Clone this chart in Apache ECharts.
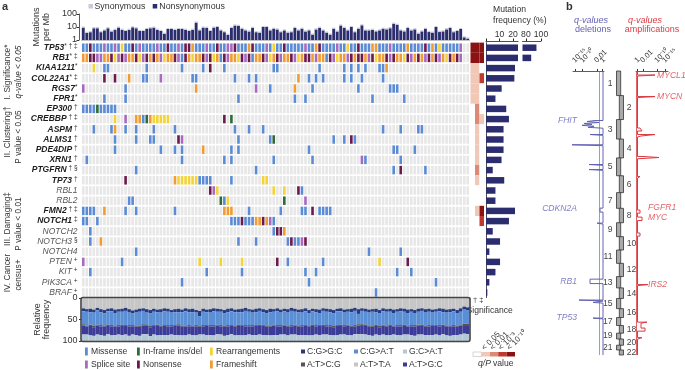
<!DOCTYPE html>
<html>
<head>
<meta charset="utf-8">
<title>SCLC mutations</title>
<script src="https://cdn.jsdelivr.net/npm/echarts@6.0.0/dist/echarts.min.js"></script>
<style>
  html, body { margin: 0; padding: 0; background: #fff; }
  #chart { width: 685px; height: 370px; }
</style>
</head>
<body>
<div id="chart"></div>
<script>
const FONT = "'Liberation Sans', Arial, sans-serif";
const nSamples = 110;
const sampleIds = [];
for (let i = 1; i <= nSamples; i++) sampleIds.push('S' + i);

// mutations per Mb, one value per sample
const nonsynRate = [9,3.5,4,8,8,4,5.5,8,4.5,6, 9,6,5,6,9.5,8,5,5,7,8, 9,6,5,3,7,7,6,7,7,6,
  5,6,22,5.5,9,8.5,5,9,10,5.5, 4,2.5,8.5,13,12,7.5,5.5,4.5,8.5,4, 3.7,10,10,5.5,7.5,6.5,4,5.5,3.7,4,
  8.5,5.5,7.5,4.5,5.5,2.6,6.5,8.5,5.5,3.7, 2.6,7.5,4.5,13,8.5,5.5,10,4,7.5,13.5, 5.5,5.5,6,4.6,5.5,7.5,6.6,8,18,15,
  5.5,4.6,8.4,5.5,6.6,3.1,4.6,7.4,4.1,3.7, 10,4.1,4.6,6.6,8.4,4,5,7,1.6,1.3];
const synRate = [2,0.8,1,2,2,1,1.2,2,1,1.5, 2,1.5,1,1.5,2,2,1,1,1.5,2, 2,1.5,1,0.7,1.5,1.5,1.5,1.5,1.5,1.5,
  1,1.5,5,1.2,2,2,1,2,2,1.2, 1,0.6,2,3,3,1.5,1.2,1,2,1, 0.8,2,2,1.2,1.5,1.5,1,1.2,0.8,1,
  2,1.2,1.5,1,1.2,0.6,1.5,2,1.2,0.8, 0.6,1.5,1,3,2,1.2,2,1,1.5,3, 1.2,1.2,1.5,1,1.2,1.5,1.5,2,4,3,
  1.2,1,2,1.2,1.5,0.7,1,1.5,1,0.8, 2,1,1,1.5,2,1,1,1.5,0.4,0.3];

// genes (rows) and their mutations: "startColumn:letters", one letter per sample
// M missense, S splice site, I in-frame, N nonsense, R rearrangement, F frameshift
const genes = ['TP53','RB1','KIAA1211','COL22A1','RGS7','FPR1','EP300','CREBBP','ASPM','ALMS1',
  'PDE4DIP','XRN1','PTGFRN','TP73','RBL1','RBL2','FMN2','NOTCH1','NOTCH2','NOTCH3','NOTCH4',
  'PTEN','KIT','PIK3CA','BRAF'];
const geneMarks = ['* † ‡','* ‡','*','* ‡','*','*',' †',' † ‡',' †',' †',' †',' †',' † §',' †','','',
  ' † ‡',' ‡','',' §','',' +',' +',' +',' +'];
const geneBold = [1,1,1,1,1,1,1,1,1,1,1,1,1,1,0,0,1,1,0,0,0,0,0,0,0];
const geneHits = [
  '0:' + 'MMNMMMSMMS' + 'MRMMNMSMMM' + 'MSMMNMMSMN' + 'NFMMMSMMNM' + 'MSSNMMMFNM' + 'MMSMRMMNMM' +
    'MMMSMMFNMM' + 'MMSMMRMMNM' + 'MMFFMMMSMM' + 'MMFMMMMNMF' + 'MRMMMMMS',
  '0:' + 'FFNNSSFFNR' + 'SNSFFNRSNF' + 'NFSRFFNSMN' + 'FRFFNSNRFM' + 'NSFFRNSNMF' + 'FNSRFNSFFN' +
    'SRFNNFSFFM' + 'NSRFFSNFNN' + 'FSNRFFNSNF' + 'FRNSFNFSNF' + 'NSFRNFNS',
  '3:R 6:MM 18:M 28:M 34:M 36:N 40:M 54:MM 67:M 74:M 76:M 78:M 80:M 84:MM 86:F',
  '6:N 9:N 13:F 17:MM 22:S 31:MM 43:M 47:M 49:M 61:F 64:M 66:M 68:M 74:M 76:M 79:M 85:M',
  '0:S 12:M 32:F 49:S 53:M 60:F 65:M 78:M 87:MMM',
  '6:M 12:M 44:M 60:M 63:M 82:M 91:M',
  '0:MMMMIMMMMM',
  '9:R 12:S 15:FFMIF 20:RRRRR 40:N 42:I',
  '3:M 8:MF 12:M 15:M 20:M 26:M 43:M 47:M 51:M 85:M 90:M 95:MM',
  '9:M 15:M 19:MM 27:NS 44:M 53:MI 71:M 74:M 76:NM',
  '9:M 22:M 26:M 28:M 34:F 42:M 44:M 64:M 88:MM 94:M',
  '1:M 28:M 40:M 42:M 54:M 65:M 79:SM 90:M',
  '15:M 49:M 88:M 90:N 97:M',
  '12:N 26:FRRRRRRMMMM 42:M 51:RR',
  '36:NSR 54:R 57:R 61:NM',
  '13:MM 39:IMR 57:I 63:S',
  '0:MMMM 6:F 12:M 15:M 26:M 40:FFF 47:M 56:M 62:MM 65:N 67:MMMM',
  '0:MM 4:M 42:MMMNMMMFFNFSM',
  '2:M 54:MNNF',
  '2:M 5:F 44:M 49:M 58:MNMMSN',
  '15:M 81:M 90:M',
  '0:S 11:M 33:R 39:R 45:R 55:N 58:M 68:M 84:R 92:N',
  '2:M 35:M 45:M 63:M 66:M 89:M 93:M',
  '28:M 64:M 100:M',
  '83:M'
];

// significance per gene: 0 none, 1 <0.05, 2 <0.01, 3 <1e-3, 4 <1e-10
const sigColumns = ['*', '†', '‡'];
const sigStar =    [4,4,1,1,1,1, 0,0,0,0,0,0,0,0, 0,0,0,0,0,0,0, 0,0,0,0];
const sigDagger =  [4,4,1,1,1,1, 2,2,1,1,1,1,2,1, 0,0,1,0,0,0,0, 0,0,0,0];
const sigDDagger = [4,4,0,3,0,0, 0,1,0,0,0,0,0,0, 0,0,4,3,0,0,0, 0,0,0,0];

// mutation frequency (%)
const mutFreq = [94,87,21.5,21,11.6,7,15,17,13,13,13,11.5,5,13.5,7,7,21.5,17,5,10.4,2.5,10.4,7,2.5,1];

// relative frequency of substitution types per sample (%), top to bottom
const atTA = [24,26,25,27,23,26,28,25,24,27, 26,25,23,26,29,27,25,24,26,28, 25,27,26,24,25,28,26,25,27,24,
  26,25,28,30,25,27,26,24,25,26, 28,25,24,27,26,25,23,26,27,25, 24,26,28,25,26,24,27,25,26,23,
  25,27,26,24,28,25,26,27,24,25, 26,28,25,24,27,26,25,23,26,24, 25,27,26,25,28,24,26,25,27,26,
  24,25,27,26,28,25,24,26,25,27, 26,24,25,27,26,25,28,24,20,22];
const cgGC = [7,6,8,7,6,7,8,6,7,8, 6,7,7,8,6,7,7,6,8,7, 7,6,8,7,7,6,7,8,6,7, 7,8,6,12,7,6,8,7,7,6,
  7,8,7,6,7,8,7,6,7,8, 6,7,7,8,6,7,7,6,8,7, 7,6,8,7,7,6,7,8,6,7, 7,8,6,7,7,6,8,7,11,6,
  7,7,6,8,7,7,6,7,8,6, 7,7,8,6,7,7,6,8,7,7, 6,7,8,7,7,6,7,8,7,6];
const cgAT = [30,32,29,31,33,30,28,31,32,29, 31,30,33,29,28,30,32,31,29,30, 31,29,30,32,31,29,30,28,31,33,
  30,31,29,22,31,30,29,32,30,31, 29,30,32,31,29,30,33,31,29,30, 32,30,29,31,30,32,29,31,30,33,
  30,31,29,32,29,31,30,28,32,31, 30,29,32,31,29,30,31,33,24,31, 30,31,32,29,30,31,32,30,29,31,
  32,30,29,31,28,30,32,30,31,29, 31,32,29,30,31,32,29,30,33,32];
const atCG = [3,2,3,3,2,3,2,3,3,2, 3,3,2,3,3,2,3,3,2,3, 2,3,3,2,3,3,2,3,3,2, 3,2,3,3,3,2,3,3,2,3,
  3,3,2,3,3,2,3,3,3,2, 3,2,3,3,2,3,3,2,3,3, 2,3,3,2,3,3,3,2,3,3, 3,3,2,3,3,2,3,3,3,2,
  3,2,3,3,3,2,3,3,2,3, 3,3,2,3,3,2,3,3,3,2, 2,3,3,3,2,3,3,2,3,3];
const atGC = [21,19,22,20,21,20,22,19,21,20, 19,21,20,22,19,20,21,20,19,21, 20,22,19,21,20,19,21,22,20,21,
  19,20,21,18,19,21,20,21,20,19, 21,20,19,20,21,22,20,19,20,21, 20,21,19,20,22,20,19,21,20,19,
  21,19,20,21,20,22,19,21,20,19, 20,19,21,20,19,22,20,18,20,21, 20,19,21,20,19,21,20,21,19,20,
  21,20,19,20,22,21,20,19,20,21, 20,21,19,20,22,20,19,21,20,21];
const gcAT = [22,21,23,22,24,21,22,23,21,22, 23,22,21,24,22,23,21,22,23,21, 22,24,21,22,23,21,22,23,24,21,
  22,23,21,22,24,22,21,23,22,22, 23,21,22,24,21,23,22,21,22,23, 21,22,24,22,23,21,22,23,21,22,
  24,21,22,23,22,21,24,22,23,22, 21,22,23,21,24,22,23,21,22,23, 22,21,23,22,24,21,22,23,22,21,
  23,22,21,24,22,23,21,22,23,22, 21,24,22,23,21,22,23,22,24,21];

// panel b: chromosome sizes (Mb) and q-value profiles on the cumulative genome (Mb)
const chromSizes = [249,243,198,191,181,171,159,146,141,136,135,134,115,107,103,90,81,78,59,63,48,51];
const delPos = [0, 502,502,512,512,522,522,532,532,541,541,551,551,560,560,571,571,580,580,
  644,644,652,652, 705,705,720,720, 748,748,757,757, 948,948,956,956,999,999,1007,1007,
  1390,1390,1430,1430, 1542,1542,1552,1552, 2110,2110,2155,2155,
  2322,2322,2331,2331,2346,2346,2353,2353, 2505,2505,2513,2513, 2880];
const delT = [1, 1,9,9,17,17,5,5,20,20,12,12,22,22,10,10,16,16,1,
  1,14,14,1, 1,3,3,1, 1,32,32,1, 1,15,15,1,1,15,15,1,
  1,4,4,1, 1,7,7,1, 1,14,14,1,
  1,25,25,1,1,11,11,1, 1,11,11,1, 1];
const ampPos = [0, 41,41,51,51, 259,259,269,269, 578,578,598,598,608,608, 644,644,659,659,669,669,
  867,867,877,877,890,890, 1070,1070,1085,1085, 1410,1410,1440,1440, 1481,1481,1516,1516,
  1643,1643,1673,1673, 2165,2165,2175,2175, 2546,2546,2556,2556,2606,2606,2637,2637,
  2703,2703,2718,2718, 2880];
const ampT = [1.5, 1.5,19,19,1.5, 1.5,19,19,1.5, 1.5,4,4,6,6,1.5, 1.5,19,19,5,5,1.5,
  1.5,8,8,23,23,1.5, 1.5,4,4,1.5, 1.5,4,4,1.5, 1.5,6,6,1.5,
  1.5,4,4,1.5, 1.5,12,12,1.5, 1.5,11,11,5,5,9,9,1.5,
  1.5,6,6,1.5, 1.5];
const delGenes = ['FHIT', 'CDKN2A', 'RB1', 'TP53'];
const delGenePos = [503, 1400, 2140, 2505];
const ampGenes = ['MYCL1', 'MYCN', 'FGFR1', 'MYC', 'IRS2'];
const ampGenePos = [50, 264, 1380, 1490, 2170];
const qTicks = [1.3, 7, 21.3, 29];
const qTickLabels = ['1', '0.01', '10⁻¹⁰', '10⁻¹⁵'];

// ---- build ----
const typeColors = ['#e7e7e7', '#5b8bd4', '#a66bbf', '#2f6b3a', '#6b1a4c', '#f2d33a', '#ef9c34'];
const typeCodes = { M: 1, S: 2, I: 3, N: 4, R: 5, F: 6 };
const sigColors = ['#ffffff', '#f1c7b6', '#dc8a76', '#c0392f', '#8a1212'];
const navy = '#2c2d6e';
const delColor = '#6262b3';
const ampColor = '#d93a40';

const cells = [];
geneHits.forEach((str, r) => {
  const row = new Array(nSamples).fill(0);
  str.split(' ').forEach(tok => {
    const parts = tok.split(':');
    const start = +parts[0];
    for (let k = 0; k < parts[1].length; k++) row[start + k] = typeCodes[parts[1][k]];
  });
  row.forEach((t, c) => cells.push([c, r, t]));
});

const sigCells = [];
[sigStar, sigDagger, sigDDagger].forEach((col, c) => {
  col.forEach((v, r) => sigCells.push([c, r, v]));
});

const chromData = [];
let acc = 0;
chromSizes.forEach((s, i) => { chromData.push([i, acc, acc + s]); acc += s; });
const genomeLen = acc;

function cellRender(colors, gapX, gapY) {
  return function (params, api) {
    const p = api.coord([api.value(0), api.value(1)]);
    const sz = api.size([1, 1]);
    return {
      type: 'rect',
      shape: { x: p[0] - sz[0] / 2 + gapX / 2, y: p[1] - sz[1] / 2 + gapY / 2, width: sz[0] - gapX, height: sz[1] - gapY },
      style: { fill: colors[api.value(2)] }
    };
  };
}

function hideAxis(extra) {
  return Object.assign({ axisLine: { show: false }, axisTick: { show: false }, axisLabel: { show: false }, splitLine: { show: false } }, extra);
}

const grid = (left, top, width, height) => ({ left, top, width, height, containLabel: false, outerBoundsMode: 'none' });

function txt(x, y, text, opt) {
  opt = opt || {};
  return {
    type: 'text', x, y, rotation: opt.rot || 0, silent: true,
    style: {
      text, x: 0, y: 0,
      font: (opt.font || '8.6px') + ' ' + FONT,
      fill: opt.fill || '#333',
      textAlign: opt.align || 'left',
      textVerticalAlign: opt.valign || 'middle'
    }
  };
}
function box(x, y, w, h, fill, stroke) {
  return { type: 'rect', silent: true, shape: { x, y, width: w, height: h },
    style: { fill, stroke: stroke || null, lineWidth: stroke ? 0.6 : 0 } };
}

const legendRows = [
  [['Missense', '#5b8bd4'], ['In-frame ins/del', '#2f6b3a'], ['Rearrangements', '#f2d33a']],
  [['Splice site', '#a66bbf'], ['Nonsense', '#6b1a4c'], ['Frameshift', '#ef9c34']]
];
const subsRows = [
  [['C:G>G:C', '#27397f'], ['C:G>A:T', '#5a8fd6'], ['G:C>A:T', '#b3c7d5']],
  [['A:T>C:G', '#555555'], ['A:T>T:A', '#c6c6c6'], ['A:T>G:C', '#3c3c98']]
];
const graphics = [];
graphics.push(txt(2, 7, 'a', { font: 'bold 11px' }));
graphics.push(txt(566, 7, 'b', { font: 'bold 11px' }));
// top legend
graphics.push(box(88.5, 4, 4.5, 4.5, '#c9cad6'));
graphics.push(txt(94.5, 6.5, 'Synonymous', { font: '8.8px' }));
graphics.push(box(152.7, 4, 4.5, 4.5, navy));
graphics.push(txt(159.3, 6.5, 'Nonsynonymous', { font: '8.8px' }));
// group labels
graphics.push(txt(8, 72, 'I. Significance*', { rot: Math.PI / 2, align: 'center', font: '8.3px' }));
graphics.push(txt(19, 72, 'q-value < 0.05', { rot: Math.PI / 2, align: 'center', font: 'italic 8.3px' }));
graphics.push(txt(8, 132, 'II. Clustering†', { rot: Math.PI / 2, align: 'center', font: '8.3px' }));
graphics.push(txt(19, 137, 'P value < 0.05', { rot: Math.PI / 2, align: 'center', font: '8.3px' }));
graphics.push(txt(8, 219, 'III. Damaging‡', { rot: Math.PI / 2, align: 'center', font: '8.3px' }));
graphics.push(txt(19, 224, 'P value < 0.01', { rot: Math.PI / 2, align: 'center', font: '8.3px' }));
graphics.push(txt(8, 273, 'IV. Cancer', { rot: Math.PI / 2, align: 'center', font: '8.3px' }));
graphics.push(txt(19, 275, 'census+', { rot: Math.PI / 2, align: 'center', font: '8.3px' }));
// mutation frequency title
graphics.push(txt(493, 10, 'Mutation'));
graphics.push(txt(493, 20.5, 'frequency (%)'));
// significance legend
graphics.push(txt(468, 300, '* † ‡', { font: '7.5px' }));
graphics.push(txt(466.5, 310.5, 'Significance'));
sigColors.forEach((c, i) => graphics.push(box(473 + i * 8.4, 352, 8.4, 4.5, c, i === 0 ? '#bbb' : null)));
['< 0.05', '< 0.01', '< 10⁻³', '< 10⁻¹⁰'].forEach((t, i) =>
  graphics.push(txt(483 + i * 8.4, 349, t, { rot: Math.PI / 4, font: '8px' })));
graphics.push(txt(478, 363.5, 'q/P', { font: 'italic 8.6px' }));
graphics.push(txt(493, 363.5, 'value'));
// bottom legends
const legX = [85, 137, 210];
legendRows.forEach((row, ri) => row.forEach((it, ci) => {
  graphics.push(box(legX[ci], 347.5 + ri * 13, 2.8, 8, it[1]));
  graphics.push(txt(legX[ci] + 6, 351.5 + ri * 13, it[0]));
}));
const subX = [301, 354, 403];
subsRows.forEach((row, ri) => row.forEach((it, ci) => {
  graphics.push(box(subX[ci], 349.5 + ri * 13, 4, 4, it[1]));
  graphics.push(txt(subX[ci] + 6, 351.5 + ri * 13, it[0]));
}));
// frame of the relative frequency panel
graphics.push({ type: 'rect', silent: true, z: 100, shape: { x: 81, y: 297.5, width: 389, height: 44, r: 2 },
  style: { fill: null, stroke: '#444', lineWidth: 1.6 } });
// panel b titles
graphics.push(txt(591, 20, 'q-values', { align: 'center', fill: delColor, font: 'italic 9px' }));
graphics.push(txt(593, 30, 'deletions', { align: 'center', fill: delColor, font: '9px' }));
graphics.push(txt(645, 20, 'q-values', { align: 'center', fill: ampColor, font: 'italic 9px' }));
graphics.push(txt(652, 30, 'amplifications', { align: 'center', fill: ampColor, font: '9px' }));

const qAxis = (gridIndex, max, inverse) => ({
  gridIndex, type: 'value', min: 0, max, inverse, position: 'top', offset: 6,
  axisLine: { show: true, lineStyle: { color: '#333', width: 0.8 } },
  axisTick: { show: true, length: 2, customValues: qTicks, lineStyle: { color: '#333' } },
  axisLabel: { show: false }, splitLine: { show: false }
});

const chart = echarts.init(document.getElementById('chart'));
chart.setOption({
  animation: false,
  textStyle: { fontFamily: FONT },
  graphic: { elements: graphics },
  grid: [
    grid(81.5, 14, 388, 26),     // 0 mutations per Mb
    grid(81.5, 42.6, 388, 255),  // 1 mutation matrix
    grid(470.5, 42.6, 13.5, 255),// 2 significance
    grid(486, 42.6, 32, 255),    // 3 frequency 0-24
    grid(522.5, 42.6, 18.5, 255),// 4 frequency 75-100
    grid(81.5, 298, 388, 43),    // 5 relative frequency
    grid(573, 71, 31, 284),      // 6 deletions
    grid(616, 71, 8, 284),       // 7 chromosomes
    grid(636, 71, 32, 284)       // 8 amplifications
  ],
  xAxis: [
    hideAxis({ gridIndex: 0, type: 'category', data: sampleIds,
      axisLine: { show: true, lineStyle: { color: '#999', width: 0.6 } } }),
    hideAxis({ gridIndex: 1, type: 'category', data: sampleIds }),
    hideAxis({ gridIndex: 2, type: 'category', data: sigColumns }),
    { gridIndex: 3, type: 'value', min: 0, max: 23.7, position: 'top', offset: 1.6,
      axisLine: { show: true, lineStyle: { color: '#222', width: 0.8 } },
      axisTick: { show: true, length: 2.5, customValues: [0, 10, 20], lineStyle: { color: '#222' } },
      axisLabel: { customValues: [10, 20], fontSize: 8.6, color: '#333', margin: 2, hideOverlap: false },
      splitLine: { show: false } },
    { gridIndex: 4, type: 'value', min: 75.5, max: 100, position: 'top', offset: 1.6,
      axisLine: { show: true, lineStyle: { color: '#222', width: 0.8 } },
      axisTick: { show: true, length: 2.5, customValues: [80, 100], lineStyle: { color: '#222' } },
      axisLabel: { customValues: [80, 100], fontSize: 8.6, color: '#333', margin: 2, hideOverlap: false },
      splitLine: { show: false } },
    hideAxis({ gridIndex: 5, type: 'category', data: sampleIds }),
    qAxis(6, 31, true),
    hideAxis({ gridIndex: 7, type: 'value', min: 0, max: 1 }),
    qAxis(8, 32, false)
  ],
  yAxis: [
    { gridIndex: 0, type: 'log', logBase: 10, min: 1, max: 100, offset: 2.5,
      name: 'Mutations\nper Mb', nameLocation: 'middle', nameGap: 18, nameRotate: 90,
      nameTextStyle: { fontSize: 9, color: '#333', lineHeight: 9.5 },
      axisLine: { show: true, lineStyle: { color: '#333', width: 0.8 } },
      axisTick: { show: true, length: 2.5, lineStyle: { color: '#333' } },
      axisLabel: { fontSize: 9, color: '#333', margin: 2 },
      splitLine: { show: false } },
    { gridIndex: 1, type: 'category', data: genes, inverse: true,
      axisLine: { show: false }, axisTick: { show: false }, splitLine: { show: false },
      axisLabel: {
        interval: 0, margin: 4, hideOverlap: false,
        formatter: (v, i) => (geneBold[i] ? '{b|' + v + '}' : '{n|' + v + '}') + (geneMarks[i] ? '{m|' + geneMarks[i] + '}' : ''),
        rich: {
          b: { fontFamily: FONT, fontSize: 8.5, fontWeight: 'bold', fontStyle: 'italic', color: '#1e1e1e' },
          n: { fontFamily: FONT, fontSize: 8.5, fontStyle: 'italic', color: '#555' },
          m: { fontFamily: FONT, fontSize: 6.5, color: '#333', padding: [0, 0, 3, 0] }
        }
      } },
    hideAxis({ gridIndex: 2, type: 'category', data: genes, inverse: true }),
    hideAxis({ gridIndex: 3, type: 'category', data: genes, inverse: true,
      axisLine: { show: true, lineStyle: { color: '#222', width: 0.8 } } }),
    hideAxis({ gridIndex: 4, type: 'category', data: genes, inverse: true }),
    { gridIndex: 5, type: 'value', min: 0, max: 100, inverse: true,
      name: 'Relative\nfrequency', nameLocation: 'middle', nameGap: 23, nameRotate: 90,
      nameTextStyle: { fontSize: 9, color: '#333', lineHeight: 9.5 },
      axisLine: { show: false },
      axisTick: { show: true, length: 2.5, customValues: [0, 50, 100], lineStyle: { color: '#333' } },
      axisLabel: { customValues: [0, 50, 100], fontSize: 9, color: '#333', margin: 4, hideOverlap: false },
      splitLine: { show: false } },
    hideAxis({ gridIndex: 6, type: 'value', min: 0, max: genomeLen, inverse: true }),
    hideAxis({ gridIndex: 7, type: 'value', min: 0, max: genomeLen, inverse: true }),
    hideAxis({ gridIndex: 8, type: 'value', min: 0, max: genomeLen, inverse: true })
  ],
  series: [
    { type: 'bar', name: 'Nonsynonymous', xAxisIndex: 0, yAxisIndex: 0, stack: 'rate', data: nonsynRate,
      barCategoryGap: '18%', itemStyle: { color: navy } },
    { type: 'bar', name: 'Synonymous', xAxisIndex: 0, yAxisIndex: 0, stack: 'rate', data: synRate,
      itemStyle: { color: '#c9cad6' } },
    { type: 'custom', xAxisIndex: 1, yAxisIndex: 1, data: cells, renderItem: cellRender(typeColors, 0.9, 1.7) },
    { type: 'custom', xAxisIndex: 2, yAxisIndex: 2, data: sigCells, renderItem: cellRender(sigColors, 0, 0) },
    { type: 'bar', xAxisIndex: 3, yAxisIndex: 3, data: mutFreq, barWidth: 6.5, itemStyle: { color: navy } },
    { type: 'bar', xAxisIndex: 4, yAxisIndex: 4, data: mutFreq, barWidth: 6.5, itemStyle: { color: navy } },
    ...[[atTA, '#c6c6c6'], [cgGC, '#27397f'], [cgAT, '#5a8fd6'], [atCG, '#555555'], [atGC, '#3c3c98'], [gcAT, '#b3c7d5']]
      .map(([d, c]) => ({ type: 'bar', xAxisIndex: 5, yAxisIndex: 5, stack: 'subs', data: d,
        barCategoryGap: '0%', itemStyle: { color: c } })),
    { type: 'line', xAxisIndex: 6, yAxisIndex: 6, showSymbol: false, data: delPos.map((p, i) => [delT[i], p]),
      lineStyle: { color: delColor, width: 1 },
      markLine: { silent: true, symbol: 'none', label: { show: false },
        lineStyle: { color: delColor, width: 0.8, type: 'solid', opacity: 0.8 }, data: [{ xAxis: 4.5 }] } },
    { type: 'scatter', xAxisIndex: 6, yAxisIndex: 6, symbolSize: 0,
      data: delGenes.map((g, i) => ({ value: [27, delGenePos[i]], name: g })),
      label: { show: true, position: 'left', distance: 0, formatter: '{b}', fontSize: 8.6, fontStyle: 'italic', color: delColor } },
    { type: 'custom', xAxisIndex: 7, yAxisIndex: 7, data: chromData,
      renderItem: (params, api) => {
        const i = api.value(0);
        const p0 = api.coord([0, api.value(1)]);
        const p1 = api.coord([0, api.value(2)]);
        const odd = i % 2 === 0;
        const x = params.coordSys.x + (odd ? 0.5 : 3.3);
        return { type: 'group', children: [
          { type: 'rect', shape: { x, y: p0[1], width: 4.2, height: p1[1] - p0[1] },
            style: { fill: '#a9a9a9', stroke: '#333', lineWidth: 0.8 } },
          { type: 'text', style: { text: String(i + 1), x: odd ? x - 4 : x + 7.5, y: (p0[1] + p1[1]) / 2,
            textAlign: odd ? 'right' : 'left', textVerticalAlign: 'middle', font: '8.6px ' + FONT, fill: '#444' } }
        ] };
      } },
    { type: 'line', xAxisIndex: 8, yAxisIndex: 8, showSymbol: false, data: ampPos.map((p, i) => [ampT[i], p]),
      lineStyle: { color: ampColor, width: 1 },
      markLine: { silent: true, symbol: 'none', label: { show: false },
        lineStyle: { color: ampColor, width: 0.8, type: 'solid' }, data: [{ xAxis: 0 }] } },
    { type: 'scatter', xAxisIndex: 8, yAxisIndex: 8, symbolSize: 0,
      data: ampGenes.map((g, i) => ({ value: [i < 2 ? 21 : 12, ampGenePos[i]], name: g })),
      label: { show: true, position: 'right', distance: 0, formatter: '{b}', fontSize: 8.6, fontStyle: 'italic', color: ampColor } }
  ]
});

// q-value tick labels, placed with the axes' own scales and turned 45 degrees
const qLabels = [];
[6, 8].forEach(axisIndex => {
  qTicks.forEach((t, i) => {
    const x = chart.convertToPixel({ xAxisIndex: axisIndex }, t);
    qLabels.push(txt(x - 1.5, 61.5, qTickLabels[i], { rot: Math.PI / 4, font: '7.5px' }));
  });
});
chart.setOption({ graphic: { elements: graphics.concat(qLabels) } });
</script>
</body>
</html>
